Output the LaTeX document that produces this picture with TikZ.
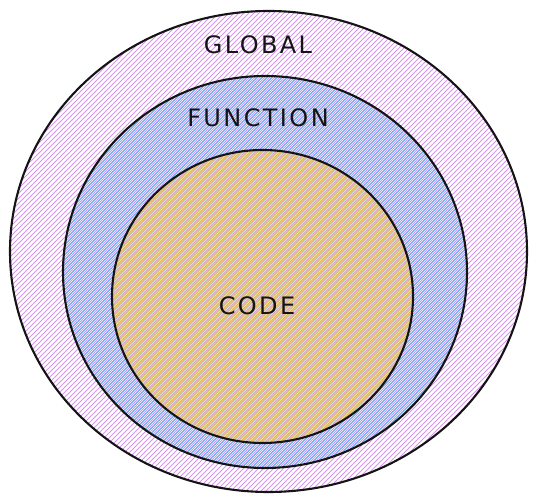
\documentclass[tikz,border=0pt]{standalone}
\usepackage{fontspec}
\newfontfamily\sketchfont[LetterSpace=10]{DejaVu Sans}
\definecolor{sk_violet}{RGB}{216,146,240}
\definecolor{sk_blue}{RGB}{104,176,238}
\definecolor{sk_orange}{RGB}{248,192,112}
\definecolor{sk_yellow}{RGB}{248,228,130}
\definecolor{sk_ink}{RGB}{20,20,20}

\begin{document}
\begin{tikzpicture}[x=1pt,y=-1pt]
    % Define hatch, outline and text styles
    \tikzset{hatchline/.style={draw=#1,line width=1.0pt},
             rim/.style={draw=sk_ink,line width=2.1pt},
             scopetext/.style={font=\sketchfont\fontsize{24}{24}\selectfont,text=sk_ink}}

    \useasboundingbox (0,0) rectangle (538,502);

    % Global scope
    \begin{scope}
        \clip (268.5,251.5) ellipse [x radius=258.5, y radius=240.5];
        \foreach \k in {-510,-505,...,540}
            \draw[hatchline=sk_violet] (\k,502) -- ++(502,-502);
    \end{scope}
    \draw[rim] (268.5,251.5) ellipse [x radius=258.5, y radius=240.5];

    % Function scope
    \begin{scope}
        \clip (265,272) ellipse [x radius=202, y radius=196];
        \foreach \k in {-507.5,-502.5,...,540}
            \draw[hatchline=sk_blue,line width=1.4pt] (\k,502) -- ++(502,-502);
    \end{scope}
    \draw[rim] (265,272) ellipse [x radius=202, y radius=196];

    % Code scope
    \begin{scope}
        \clip (262.5,296.5) ellipse [x radius=150.5, y radius=146.5];
        \foreach \k in {-508.75,-503.75,...,540}
            \draw[hatchline=sk_orange,line width=1.3pt] (\k,502) -- ++(502,-502);
        \foreach \k in {-506.25,-501.25,...,540}
            \draw[hatchline=sk_yellow] (\k,502) -- ++(502,-502);
    \end{scope}
    \draw[rim] (262.5,296.5) ellipse [x radius=150.5, y radius=146.5];

    % Scope names
    \node[scopetext] (global) at (258,45) {GLOBAL};
    \node[scopetext] (function) at (258,118) {FUNCTION};
    \node[scopetext] (code) at (257,306) {CODE};
\end{tikzpicture}
\end{document}
